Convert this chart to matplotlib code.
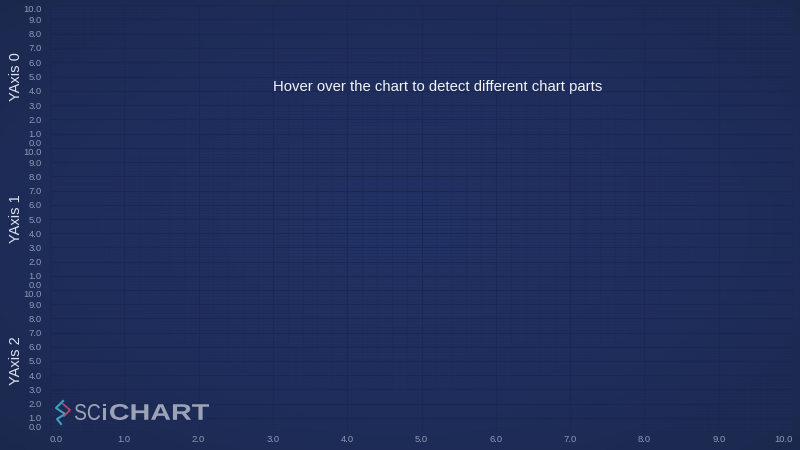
import numpy as np
import matplotlib
matplotlib.use("Agg")
import matplotlib.pyplot as plt
from matplotlib.colors import LinearSegmentedColormap
from matplotlib.textpath import TextPath
from matplotlib.patches import PathPatch
from matplotlib.font_manager import FontProperties
from matplotlib.transforms import Affine2D, IdentityTransform

plt.rcParams['font.family'] = ['Liberation Sans', 'DejaVu Sans']

# ---- data ----
x_range = [0.0, 10.0]
y_range = [0.0, 10.0]
x_ticks = [0.0, 1.0, 2.0, 3.0, 4.0, 5.0, 6.0, 7.0, 8.0, 9.0, 10.0]
y_ticks = [0.0, 1.0, 2.0, 3.0, 4.0, 5.0, 6.0, 7.0, 8.0, 9.0, 10.0]
y_axis_titles = ["YAxis 0", "YAxis 1", "YAxis 2"]
title_text = "Hover over the chart to detect different chart parts"

W, H = 800, 450
fig = plt.figure(figsize=(W / 100, H / 100), dpi=100)

# background gradient
bg = fig.add_axes([0, 0, 1, 1], zorder=-10)
yy, xx = np.mgrid[0:1:200j, 0:1:360j]
r = np.sqrt(((xx - 0.5) / 0.75) ** 2 + ((yy - 0.5) / 0.75) ** 2)
cmap = LinearSegmentedColormap.from_list("bg", ["#223366", "#1f2e5c", "#1b284c"])
bg.imshow(np.clip(r, 0, 1), cmap=cmap, aspect="auto", extent=[0, 1, 0, 1], vmin=0, vmax=1)
bg.set_axis_off()

left_px, right_px = 50, 793
tops = [5, 148, 290]
bots = [148, 290, 432]
label_color = "#8f99b4"
grid_major = "#1a2752"
grid_minor = "#1e2c5a"

axes = []
for i in range(3):
    t, b = tops[i], bots[i]
    ax = fig.add_axes([left_px / W, 1 - b / H, (right_px - left_px) / W, (b - t) / H])
    ax.patch.set_alpha(0)
    ax.set_xlim(*x_range)
    ax.set_ylim(*y_range)
    for s in ax.spines.values():
        s.set_visible(False)
    ax.set_xticks(x_ticks)
    ax.set_yticks(y_ticks)
    ax.set_xticks(np.arange(0, 10.01, 0.2), minor=True)
    ax.set_yticks(np.arange(0, 10.01, 0.2), minor=True)
    ax.grid(which="minor", color=grid_minor, lw=0.5)
    ax.grid(which="major", color=grid_major, lw=0.8)
    ax.tick_params(which="both", length=0)
    ax.tick_params(axis="y", labelsize=6.8, labelcolor=label_color, pad=6)
    ax.set_yticklabels([f"{v:.1f}" for v in y_ticks])
    yl = ax.get_yticklabels()
    yl[0].set_va("bottom")
    yl[-1].set_va("top")
    if i < 2:
        ax.tick_params(axis="x", labelbottom=False)
    else:
        ax.tick_params(axis="x", labelsize=6.8, labelcolor=label_color, pad=2)
        ax.set_xticklabels([f"{v:.1f}" for v in x_ticks])
        xl = ax.get_xticklabels()
        xl[0].set_ha("left")
        xl[-1].set_ha("right")
    fig.text(16 / W, 1 - ((t + b) / 2) / H, y_axis_titles[i], rotation=90,
             ha="center", va="center", color="#dde2ee", fontsize=10.5)
    axes.append(ax)

fig.text(438 / W, 1 - 87 / H, title_text, ha="center", va="center",
         color="#f2f4fa", fontsize=10.75)

# SciChart watermark drawn as text paths fitted to pixel boxes
def logo_text(s, weight, x0, x1, ytop, ybot):
    tp = TextPath((0, 0), s, size=100, prop=FontProperties(family="Liberation Sans", weight=weight))
    ext = tp.get_extents()
    sx = (x1 - x0) / ext.width
    sy = (ybot - ytop) / ext.height
    tr = Affine2D().translate(-ext.x0, -ext.y0).scale(sx, sy).translate(x0, H - ybot) + IdentityTransform()
    p = PathPatch(tp, transform=tr, facecolor="#a9aec0", edgecolor="none", alpha=0.92)
    fig.patches.append(p)

logo_text("SC", "light", 75, 100, 404, 420)
logo_text("i", "light", 103, 106, 404, 420)
logo_text("CHART", "bold", 110, 209, 404, 420)

lx = np.array([63, 56, 65, 57, 61]) / W
ly = 1 - np.array([401, 408, 414, 419, 424]) / H
fig.lines.append(plt.Line2D(lx, ly, transform=fig.transFigure, color="#3f9fc0", lw=1.5))
fig.lines.append(plt.Line2D(np.array([63, 70, 64]) / W, 1 - np.array([404, 410, 416]) / H,
                            transform=fig.transFigure, color="#c04a6a", lw=1.2))

fig.savefig("out.png", dpi=100)
